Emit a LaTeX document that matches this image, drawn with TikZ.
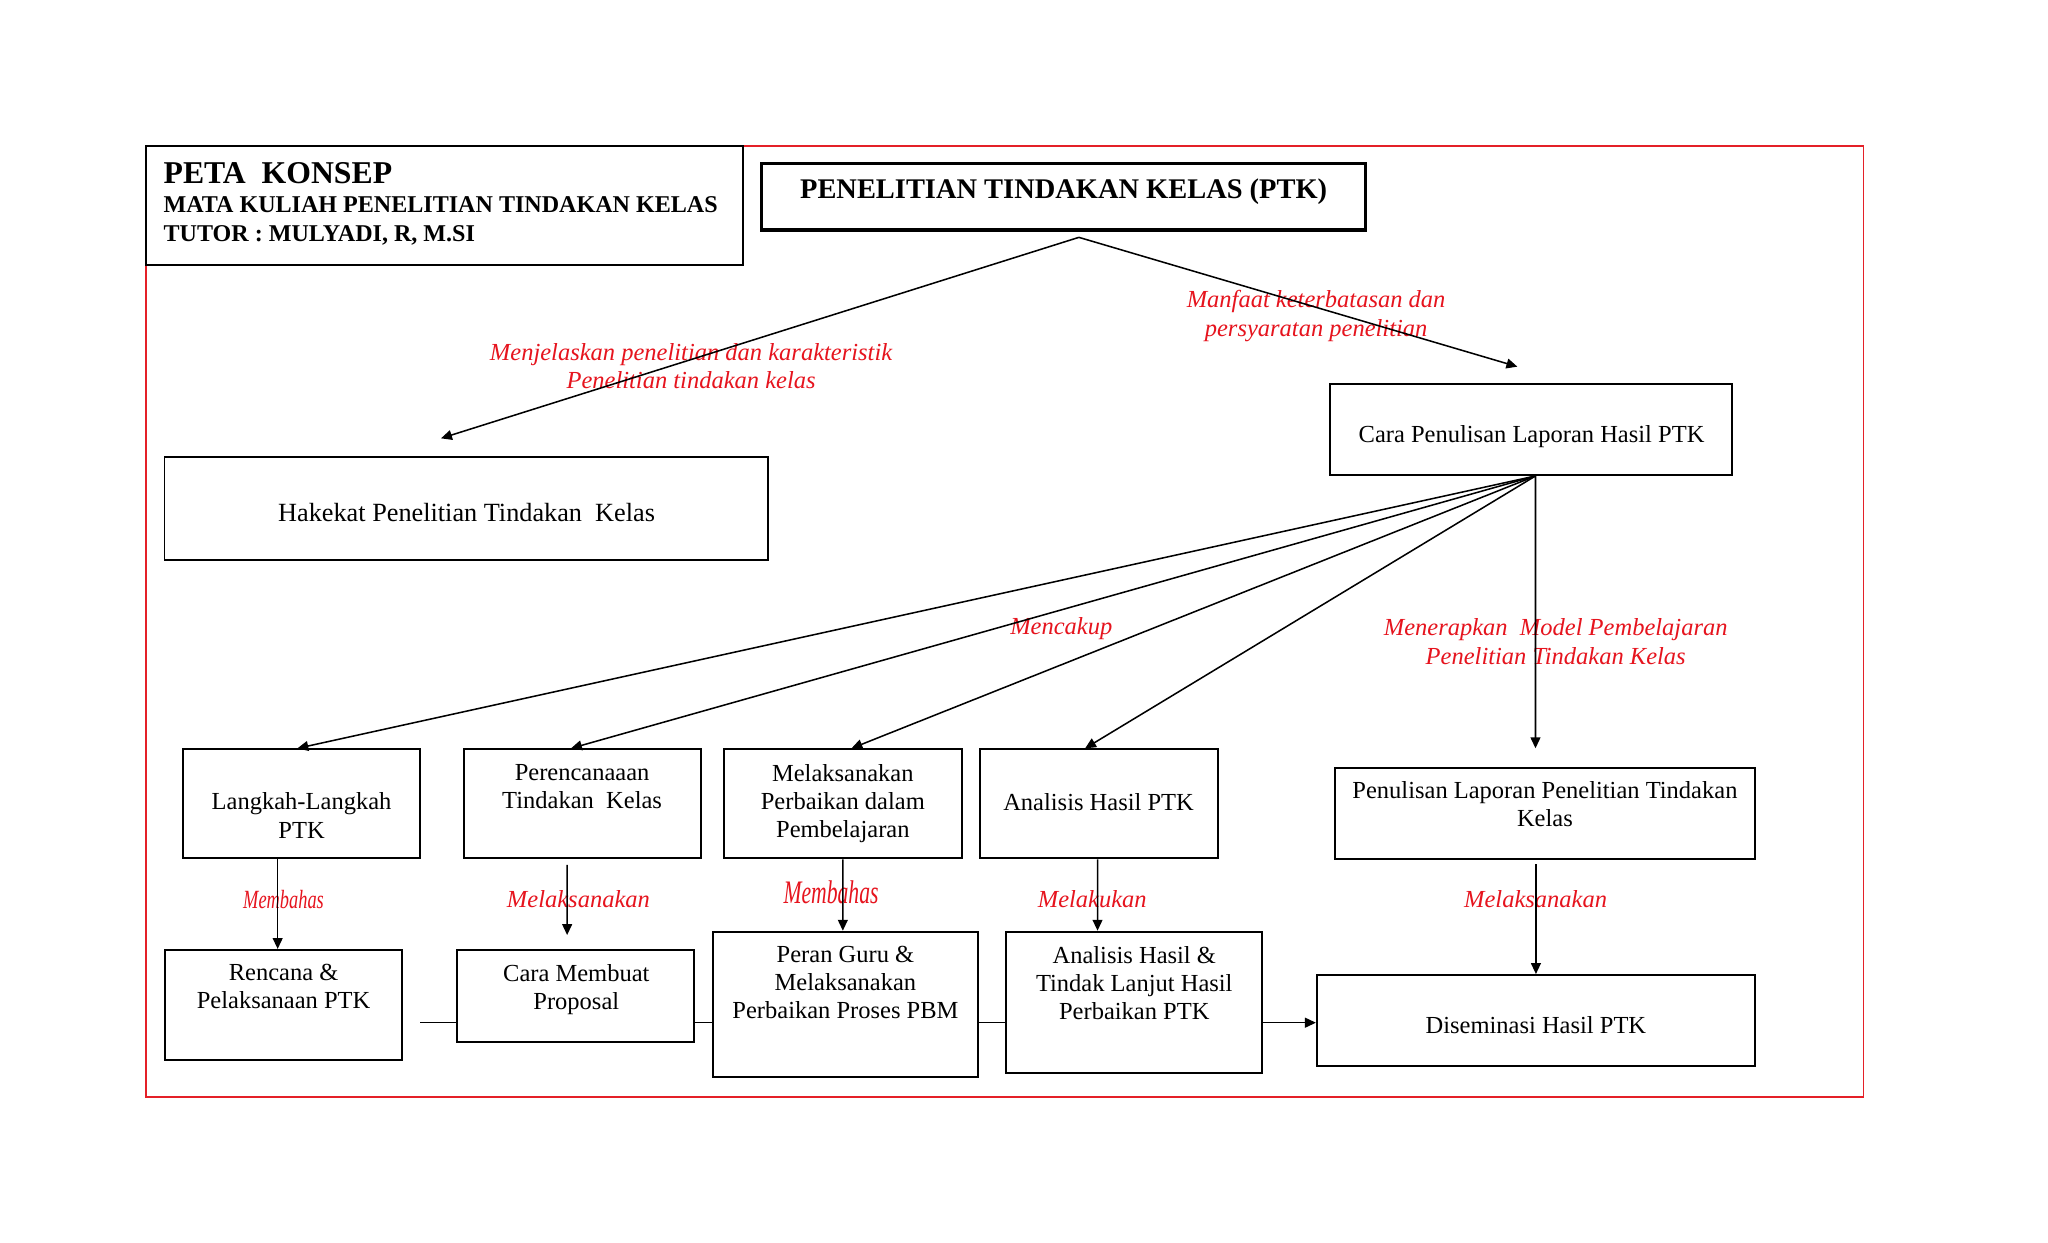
\documentclass[tikz,border=0pt]{standalone}
\usepackage{fontspec}
\setmainfont{Liberation Serif}
\usepackage{graphicx}
\usetikzlibrary{arrows.meta,fit,calc}
\definecolor{framered}{RGB}{228,32,40}
\definecolor{lblred}{RGB}{230,20,30}
\begin{document}
\begin{tikzpicture}[x=0.6pt,y=-0.6pt,
  box/.style={draw, line width=0.9pt, inner sep=0pt, fill=white},
  txt/.style={font=\fontsize{11.2}{12.8}\selectfont, align=center, inner sep=0pt},
  lbl/.style={font=\fontsize{11.2}{12.9}\selectfont\itshape, text=lblred, align=center, inner sep=0pt},
  hdr/.style={font=\bfseries\fontsize{11}{13}\selectfont, inner sep=0pt, anchor=base west},
  conn/.style={line width=0.7pt},
  arr/.style={conn, -{Triangle[length=5pt,width=4.5pt]}}]
\useasboundingbox (0,0) rectangle (1560,946.8);
\fill[white] (0,0) rectangle (1560,946.8);
% red frame
\node[draw=framered, line width=0.7pt, inner sep=0pt, fit={(111.3,111.2) (1419.3,835.4)}] (frame) {};
% title block
\node[box, line width=1pt, fit={(111.5,111.2) (566.2,201.9)}] (title) {};
\node[hdr, font=\bfseries\fontsize{14.5}{16}\selectfont] (t1) at (124.3,139.6) {PETA\ \ KONSEP};
\node[hdr] (t2) at (124.3,162) {MATA KULIAH PENELITIAN TINDAKAN KELAS};
\node[hdr] (t3) at (124.3,184.1) {TUTOR : MULYADI, R, M.SI};
% boxes
\node[box, line width=1.4pt, fit={(579.8,124.9) (1040.4,175.2)}] (ptk) {};
\node[box, fit={(125.3,347.9) (584.7,426.6)}] (hak) {};
\node[box, fit={(1013,292.5) (1319.6,361.8)}] (cara) {};
\node[box, fit={(139.4,570.8) (320,653.8)}] (lang) {};
\node[box, fit={(353.1,570.8) (533.7,653.8)}] (perenc) {};
\node[box, fit={(551.4,570.8) (732.5,653.8)}] (melaks) {};
\node[box, fit={(746.4,570.8) (927.6,653.8)}] (anal) {};
\node[box, fit={(1016.7,584.8) (1336.9,654.3)}] (penul) {};
\node[box, fit={(125.4,723.6) (306,807.4)}] (renc) {};
\node[box, fit={(348.2,723.7) (528.8,793.5)}] (cmb) {};
\node[box, fit={(543.2,709.7) (745.2,820.1)}] (peran) {};
\node[box, fit={(766.6,709.7) (961.6,817.1)}] (anh) {};
\node[box, fit={(1003.1,742.7) (1336.8,812)}] (dis) {};
% box texts
\node[inner sep=0pt, anchor=base, font=\bfseries\fontsize{13}{15}\selectfont] (ptk-t) at (810.2,151) {PENELITIAN TINDAKAN KELAS (PTK)};
\node[txt, anchor=base, font=\fontsize{12}{13.5}\selectfont] (hak-t) at (355.4,397) {Hakekat Penelitian Tindakan\ \ Kelas};
\node[txt, anchor=base] (cara-t) at (1166.6,337) {Cara Penulisan Laporan Hasil PTK};
\node[txt, anchor=north] (lang-t) at (229.7,603.7) {Langkah-Langkah\\PTK};
\node[txt, anchor=north] (perenc-t) at (443.4,582) {Perencanaaan\\Tindakan\ \ Kelas};
\node[txt, anchor=north] (melaks-t) at (642,582) {Melaksanakan\\Perbaikan dalam\\Pembelajaran};
\node[txt, anchor=base] (anal-t) at (836.8,617) {Analisis Hasil PTK};
\node[txt, anchor=north] (penul-t) at (1176.8,595.3) {Penulisan Laporan Penelitian Tindakan\\Kelas};
\node[txt, anchor=north] (renc-t) at (216,734) {Rencana \&\\Pelaksanaan PTK};
\node[txt, anchor=north] (cmb-t) at (439,734) {Cara Membuat\\Proposal};
\node[txt, anchor=north] (peran-t) at (644,720.5) {Peran Guru \&\\Melaksanakan\\Perbaikan Proses PBM};
\node[txt, anchor=north] (anh-t) at (864,720.5) {Analisis Hasil \&\\Tindak Lanjut Hasil\\Perbaikan PTK};
\node[txt, anchor=base] (dis-t) at (1169.9,787) {Diseminasi Hasil PTK};
% labels
\node[lbl, anchor=north] (l1) at (526.4,261.5) {Menjelaskan penelitian dan karakteristik\\Penelitian tindakan kelas};
\node[lbl, anchor=north] (l2) at (1002.5,221) {Manfaat keterbatasan dan\\persyaratan penelitian};
\node[lbl, anchor=base] (l3) at (808.4,483) {Mencakup};
\node[lbl, anchor=north] (l4) at (1185,471) {Menerapkan\ \ Model Pembelajaran\\Penelitian Tindakan Kelas};
\node[lbl, anchor=base] (l5) at (216,692) {\fontsize{12}{14}\selectfont\scalebox{0.7}[1]{Membahas}};
\node[lbl, anchor=base] (l6) at (440.6,691.6) {Melaksanakan};
\node[lbl, anchor=base] (l7) at (633,688) {\fontsize{15}{17}\selectfont\scalebox{0.66}[1]{Membahas}};
\node[lbl, anchor=base] (l8) at (832,691.6) {Melakukan};
\node[lbl, anchor=base] (l9) at (1169.7,691.6) {Melaksanakan};
% connectors from PTK
\coordinate (apex) at (821.8,180.8);
\coordinate (hakin) at (335.9,333.9);
\coordinate (carain) at (1155.8,279.3);
\draw[arr] (apex) -- (hakin);
\draw[arr] (apex) -- (carain);
% fan from Cara Penulisan
\coordinate (fan) at ($(cara.south)+(3.3,0)$);
\coordinate (penin) at (1169.6,570);
\draw[arr] (fan) -- ($(lang.north)+(-3.2,0)$);
\draw[arr] (fan) -- ($(perenc.north)+(-8.5,0)$);
\draw[arr] (fan) -- ($(melaks.north)+(6.6,0)$);
\draw[arr] (fan) -- ($(anal.north)+(-10.5,0)$);
\draw[arr] (fan) -- (penin);
% row 1 to row 2
\draw[arr] ($(lang.south)+(-18.2,0)$) -- ($(renc.north)+(-4.2,0)$);
\draw[arr] ($(perenc.south)+(-11.4,4.2)$) -- ($(cmb.north)+(-6.5,-10.7)$);
\draw[arr] (melaks.south) -- ($(peran.north)+(-2.2,0)$);
\draw[arr] ($(anal.south)+(-1,0)$) -- ($(anh.north)+(-28.1,0)$);
\draw[arr] ($(dis.north |- penul.south)+(0,3.2)$) -- (dis.north);
% bottom chain
\coordinate (hl) at (0,779);
\coordinate (hstart) at (320,779);
\draw[conn] (hstart) -- (cmb.west |- hl);
\draw[conn] (cmb.east |- hl) -- (peran.west |- hl);
\draw[conn] (peran.east |- hl) -- (anh.west |- hl);
\draw[arr] (anh.east |- hl) -- (dis.west |- hl);
\end{tikzpicture}
\end{document}
